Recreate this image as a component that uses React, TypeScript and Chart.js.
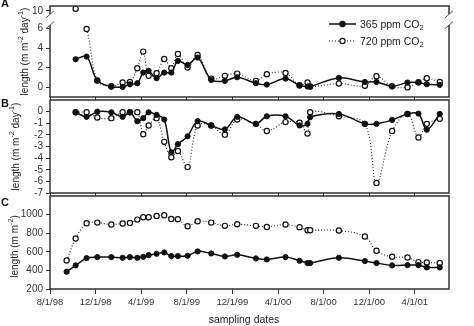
import React, { useEffect, useRef } from "react";
import { Chart, registerables } from "chart.js";
Chart.register(...registerables);

const W = 474;
const H = 326;
const FONT = "'Liberation Sans', Arial, Helvetica, sans-serif";
const INK = "#222";

// x axis: months since 8/1/98
const xTickMonths = [0, 4, 8, 12, 16, 20, 24, 28, 32];
const xTickLabels = ["8/1/98", "12/1/98", "4/1/99", "8/1/99", "12/1/99", "4/1/00", "8/1/00", "12/1/00", "4/1/01"];

// sampling dates (months since 8/1/98)
const datesC = [1.46, 2.25, 3.21, 4.15, 5.38, 6.37, 7.01, 7.66, 8.18, 8.65, 9.35, 10.02, 10.64, 11.22, 12.07, 12.95, 14.14, 15.34, 16.42, 18.06, 19.02, 20.66, 21.89, 22.59, 22.82, 25.34, 27.62, 28.64, 30.01, 31.36, 32.32, 33.05, 34.19];
const datesAB = datesC.slice(1);

// Panel A: production (m m-2 day-1)
const a365 = [2.86, 3.13, 0.68, 0.05, 0.03, 0.3, 0.41, 1.5, 1.67, 0.92, 1.5, 1.5, 2.69, 2.28, 3.03, 0.75, 0.65, 1.02, 0.41, 0.27, 0.88, 0.17, 0.07, 0.07, 0.95, 0.54, 0.54, 0.1, 0.48, 0.48, 0.31, 0.24];
const a720 = [10.5, 5.95, 0.68, 0.1, 0.48, 0.54, 1.94, 3.64, 1.16, 1.43, 2.89, 1.94, 3.4, 2.01, 3.3, 0.88, 1.16, 1.39, 0.65, 1.33, 1.46, 0.2, 0.48, 0.07, 0.37, 0.14, 1.12, 0.1, 0.0, 0.51, 0.92, 0.54];

// Panel B: mortality (m m-2 day-1)
const b365 = [-0.06, -0.45, 0, -0.06, -0.45, -0.06, -0.82, -0.56, -0.06, -0.28, -0.68, -3.5, -2.8, -2.12, -0.82, -1.19, -1.53, -0.45, -1.05, -0.4, -0.4, -1.19, -1.05, -0.48, -0.2, -1.05, -1.05, -0.71, -0.2, -0.17, -1.55, -0.2];
const b720 = [-0.06, -0.06, -0.51, -0.56, -0.06, -0.06, -0.06, -1.95, -1.19, -0.56, -2.6, -3.93, -3.39, -4.77, -1.19, -1.19, -1.98, -0.68, -1.05, -1.67, -0.9, -0.96, -1.89, -0.06, -0.4, -1.05, -6.13, -1.67, -0.2, -2.23, -1.05, -0.62];

// Panel C: standing length (m m-2)
const c365 = [386, 454, 532, 543, 543, 536, 543, 536, 546, 564, 579, 593, 554, 554, 557, 604, 582, 550, 568, 529, 518, 543, 504, 479, 479, 536, 500, 479, 454, 457, 457, 432, 432];
const c720 = [507, 743, 907, 914, 893, 904, 911, 946, 971, 971, 986, 993, 954, 950, 875, 929, 914, 879, 896, 879, 868, 893, 864, 832, 832, 829, 764, 611, 546, 539, 489, 486, 479];

const yTicksA = [0, 2, 4, 6, 10];
const yTicksB = [-7, -6, -5, -4, -3, -2, -1, 0];
const yTicksC = [200, 400, 600, 800, 1000];

const seriesNames = ["365 ppm CO", "720 ppm CO"];

// broken axis in panel A
const BREAK_AT = 6;
const BREAK_SCALE = 0.4475;
const toAxisA = (v: number) => (v <= BREAK_AT ? v : BREAK_AT + (v - BREAK_AT) * BREAK_SCALE);

type Part = { t: string; sup?: boolean; sub?: boolean };

function drawRich(ctx: CanvasRenderingContext2D, x: number, y: number, parts: Part[], size: number, rotate: boolean, align: "center" | "left") {
  ctx.save();
  ctx.translate(x, y);
  if (rotate) ctx.rotate(-Math.PI / 2);
  ctx.textBaseline = "alphabetic";
  ctx.textAlign = "left";
  ctx.fillStyle = INK;
  const small = size * 0.72;
  let total = 0;
  for (const p of parts) {
    ctx.font = `${p.sup || p.sub ? small : size}px ${FONT}`;
    total += ctx.measureText(p.t).width;
  }
  let cx = align === "center" ? -total / 2 : 0;
  const base = size * 0.36;
  for (const p of parts) {
    ctx.font = `${p.sup || p.sub ? small : size}px ${FONT}`;
    let by = base;
    if (p.sup) by = base - size * 0.42;
    if (p.sub) by = base + size * 0.25;
    ctx.fillText(p.t, cx, by);
    cx += ctx.measureText(p.t).width;
  }
  ctx.restore();
}

function line(ctx: CanvasRenderingContext2D, x1: number, y1: number, x2: number, y2: number) {
  ctx.beginPath();
  ctx.moveTo(x1, y1);
  ctx.lineTo(x2, y2);
  ctx.stroke();
}

type Panel = {
  letter: string;
  letterY: number;
  top: number;
  bottom: number;
  yMin: number;
  yMax: number;
  yTickPos: number[];
  yTickText: string[];
  showXLabels: boolean;
  xTickLen: number;
  d365: { x: number; y: number }[];
  d720: { x: number; y: number }[];
  titleParts: Part[];
  titleX: number;
  titleCenterOffset: number;
  broken?: boolean;
  legend?: boolean;
  xTitle?: boolean;
};

const rateTitle: Part[] = [{ t: "length (m m" }, { t: "-2", sup: true }, { t: " day" }, { t: "-1", sup: true }, { t: ")" }];

const panels: Panel[] = [
  {
    letter: "A",
    letterY: 4,
    top: 6,
    bottom: 97,
    yMin: -1,
    yMax: 8.3,
    yTickPos: yTicksA.map(toAxisA),
    yTickText: yTicksA.map(String),
    showXLabels: false,
    xTickLen: 3,
    d365: datesAB.map((x, i) => ({ x, y: toAxisA(a365[i]) })),
    d720: datesAB.map((x, i) => ({ x, y: toAxisA(a720[i]) })),
    titleParts: rateTitle,
    titleX: 24,
    titleCenterOffset: 0,
    broken: true,
    legend: true,
  },
  {
    letter: "B",
    letterY: 104,
    top: 100,
    bottom: 193,
    yMin: -7,
    yMax: 1,
    yTickPos: yTicksB,
    yTickText: yTicksB.map(String),
    showXLabels: false,
    xTickLen: 3,
    d365: datesAB.map((x, i) => ({ x, y: b365[i] })),
    d720: datesAB.map((x, i) => ({ x, y: b720[i] })),
    titleParts: rateTitle,
    titleX: 15,
    titleCenterOffset: 0,
  },
  {
    letter: "C",
    letterY: 203,
    top: 196,
    bottom: 289,
    yMin: 200,
    yMax: 1200,
    yTickPos: yTicksC,
    yTickText: yTicksC.map(String),
    showXLabels: true,
    xTickLen: 5,
    d365: datesC.map((x, i) => ({ x, y: c365[i] })),
    d720: datesC.map((x, i) => ({ x, y: c720[i] })),
    titleParts: [{ t: "length (m m" }, { t: "-2", sup: true }, { t: ")" }],
    titleX: 14,
    titleCenterOffset: 4,
    xTitle: true,
  },
];

function makeChart(canvas: HTMLCanvasElement, p: Panel) {
  const decor = {
    id: "decor" + p.letter,
    afterDraw(chart: any) {
      const ctx: CanvasRenderingContext2D = chart.ctx;
      const a = chart.chartArea;
      const ys = chart.scales.y;
      ctx.save();
      ctx.strokeStyle = "#333";
      ctx.lineWidth = 1.5;
      ctx.lineCap = "butt";
      if (!p.broken) {
        ctx.strokeRect(a.left, a.top, a.right - a.left, a.bottom - a.top);
      } else {
        const g1 = ys.getPixelForValue(7.45);
        const g2 = ys.getPixelForValue(6.35);
        line(ctx, a.left - 0.75, a.top, a.right + 0.75, a.top);
        line(ctx, a.left - 0.75, a.bottom, a.right + 0.75, a.bottom);
        for (const x of [a.left, a.right]) {
          line(ctx, x, a.top, x, g1);
          line(ctx, x, g2, x, a.bottom);
        }
        ctx.lineWidth = 1;
        ctx.strokeStyle = "#555";
        for (const x of [a.left, a.right]) {
          for (const gy of [g1, g2]) {
            line(ctx, x - 4, gy + 3.5, x + 4, gy - 3.5);
          }
        }
      }
      ctx.restore();

      // panel letter
      ctx.save();
      ctx.fillStyle = "#111";
      ctx.font = `bold 11px ${FONT}`;
      ctx.textBaseline = "middle";
      ctx.textAlign = "left";
      ctx.fillText(p.letter, 1, p.letterY);
      ctx.restore();

      // y title
      drawRich(ctx, p.titleX, (a.top + a.bottom) / 2 + p.titleCenterOffset, p.titleParts, 10, true, "center");

      if (p.legend) {
        const rows = [
          { y: a.top + 18, dash: [] as number[], fill: "#111", name: seriesNames[0], lw: 1.5 },
          { y: a.top + 35, dash: [1, 2], fill: "#fff", name: seriesNames[1], lw: 1.1 },
        ];
        for (const r of rows) {
          ctx.save();
          ctx.strokeStyle = "#111";
          ctx.lineWidth = r.lw;
          ctx.setLineDash(r.dash);
          line(ctx, 329, r.y, 356, r.y);
          ctx.setLineDash([]);
          ctx.beginPath();
          ctx.arc(342.5, r.y, 2.6, 0, Math.PI * 2);
          ctx.fillStyle = r.fill;
          ctx.fill();
          ctx.lineWidth = 1.2;
          ctx.stroke();
          ctx.restore();
          drawRich(ctx, 360, r.y, [{ t: r.name }, { t: "2", sub: true }], 10.5, false, "left");
        }
      }

      if (p.xTitle) {
        ctx.save();
        ctx.fillStyle = INK;
        ctx.font = `10.5px ${FONT}`;
        ctx.textAlign = "center";
        ctx.textBaseline = "middle";
        ctx.fillText("sampling dates", 244, 320);
        ctx.restore();
      }
    },
  };

  const zeroPad = (s: any) => {
    s.paddingTop = 0;
    s.paddingBottom = 0;
    s.paddingLeft = 0;
    s.paddingRight = 0;
  };

  return new Chart(canvas, {
    type: "line",
    data: {
      datasets: [
        {
          label: seriesNames[0] + "2",
          data: p.d365,
          borderColor: "#111",
          backgroundColor: "#111",
          borderWidth: 1.5,
          pointRadius: 2.6,
          pointBorderWidth: 1,
          pointBackgroundColor: "#111",
          pointBorderColor: "#111",
          tension: 0.35,
          fill: false,
        },
        {
          label: seriesNames[1] + "2",
          data: p.d720,
          borderColor: "#222",
          backgroundColor: "#fff",
          borderWidth: 1.1,
          borderDash: [1, 2],
          pointRadius: 2.6,
          pointBorderWidth: 1.2,
          pointBackgroundColor: "#fff",
          pointBorderColor: "#111",
          tension: 0.35,
          fill: false,
          segment: p.broken
            ? {
                borderColor: (ctx: any) =>
                  ctx.p0.parsed.y > BREAK_AT + 0.01 || ctx.p1.parsed.y > BREAK_AT + 0.01 ? "rgba(0,0,0,0)" : undefined,
              }
            : undefined,
        },
      ],
    },
    options: {
      responsive: false,
      animation: false,
      devicePixelRatio: 1,
      layout: { padding: { left: 0, right: 25, top: p.top, bottom: 0 } },
      plugins: { legend: { display: false }, tooltip: { enabled: false } },
      scales: {
        x: {
          type: "linear",
          min: 0,
          max: 35,
          afterBuildTicks: (s: any) => {
            s.ticks = xTickMonths.map((v) => ({ value: v }));
          },
          afterFit: (s: any) => {
            s.height = H - p.bottom;
            zeroPad(s);
          },
          grid: { display: true, drawOnChartArea: false, drawTicks: true, tickLength: p.xTickLen, color: "#333", lineWidth: 1 },
          border: { display: false },
          ticks: {
            display: p.showXLabels,
            autoSkip: false,
            maxRotation: 0,
            padding: 3,
            color: "#333",
            font: { family: FONT, size: 9.5 },
            callback: (v: any) => {
              const i = xTickMonths.indexOf(Number(v));
              return i >= 0 ? xTickLabels[i] : "";
            },
          },
        },
        y: {
          type: "linear",
          min: p.yMin,
          max: p.yMax,
          afterBuildTicks: (s: any) => {
            s.ticks = p.yTickPos.map((v) => ({ value: v }));
          },
          afterFit: (s: any) => {
            s.width = 50;
            zeroPad(s);
          },
          grid: { display: true, drawOnChartArea: false, drawTicks: true, tickLength: 4, color: "#333", lineWidth: 1 },
          border: { display: false },
          ticks: {
            autoSkip: false,
            padding: 3,
            color: "#333",
            font: { family: FONT, size: 10 },
            callback: (v: any) => {
              const i = p.yTickPos.findIndex((t) => Math.abs(t - Number(v)) < 1e-6);
              return i >= 0 ? p.yTickText[i] : "";
            },
          },
        },
      },
    },
    plugins: [decor],
  } as any);
}

export default function App() {
  const refA = useRef<HTMLCanvasElement>(null);
  const refB = useRef<HTMLCanvasElement>(null);
  const refC = useRef<HTMLCanvasElement>(null);

  useEffect(() => {
    const refs = [refA, refB, refC];
    const charts = panels.map((p, i) => makeChart(refs[i].current as HTMLCanvasElement, p));
    return () => charts.forEach((c) => c.destroy());
  }, []);

  const cstyle: React.CSSProperties = { position: "absolute", left: 0, top: 0, width: W, height: H };
  return (
    <div style={{ position: "fixed", left: 0, top: 0, width: W, height: H, background: "#fff" }}>
      <canvas ref={refA} width={W} height={H} style={cstyle} />
      <canvas ref={refB} width={W} height={H} style={cstyle} />
      <canvas ref={refC} width={W} height={H} style={cstyle} />
    </div>
  );
}
